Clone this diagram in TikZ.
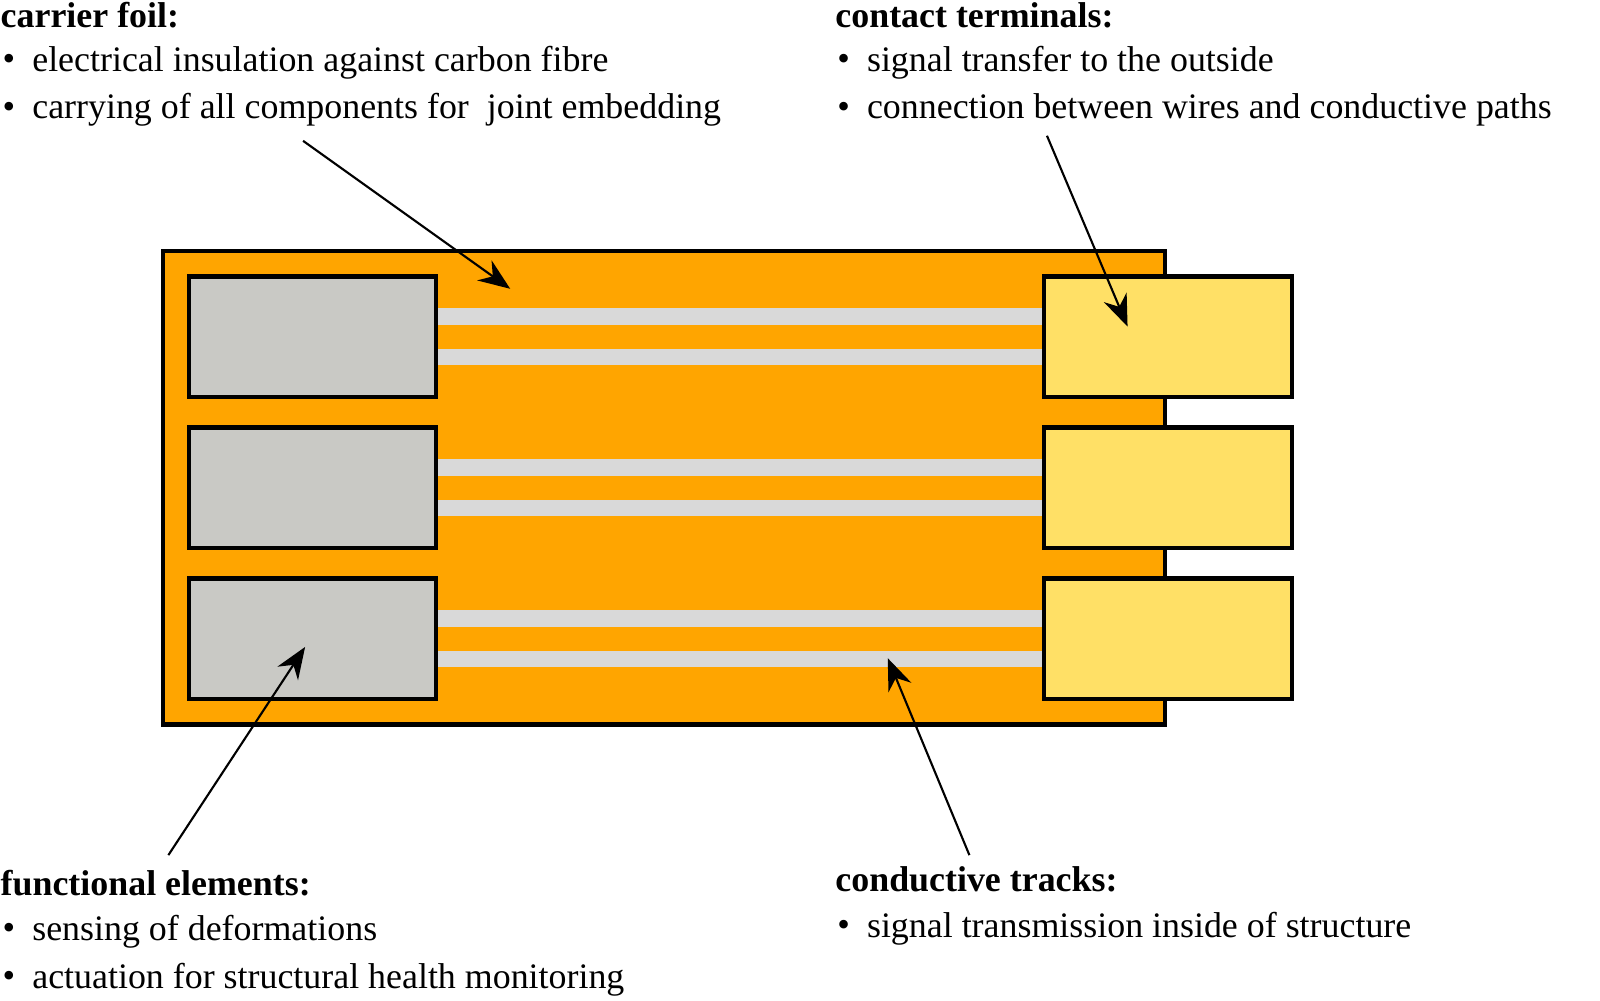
\documentclass[tikz,border=0pt]{standalone}
\usepackage{fontspec}
\setmainfont{Liberation Serif}
\usetikzlibrary{arrows.meta}
\definecolor{foil}{HTML}{FFA500}
\definecolor{elem}{HTML}{C9C9C5}
\definecolor{term}{HTML}{FFE066}
\definecolor{track}{HTML}{D9D9D9}
\begin{document}
\begin{tikzpicture}[x=0.0102cm,y=-0.0102cm,
  box/.style={draw=black,line width=1.2pt},
  tr/.style={fill=track,draw=none},
  txt/.style={anchor=west,inner sep=0pt,font=\fontsize{10.2}{12}\selectfont},
  ttl/.style={txt,font=\fontsize{10.2}{12}\selectfont\bfseries},
  arr/.style={-{Stealth[length=9pt,width=7pt]},line width=0.6pt}]
\useasboundingbox (0,0) rectangle (1568,980);
\filldraw[box,fill=foil] (160,246) rectangle (1142,710);
\foreach \y in {0,148,296}{
  \fill[tr] (427,302+\y) rectangle (1023,318+\y);
  \fill[tr] (427,342+\y) rectangle (1023,358+\y);
  \filldraw[box,fill=elem] (185,271+\y) rectangle (427,389+\y);
  \filldraw[box,fill=term] (1023,271+\y) rectangle (1266,389+\y);
}
% texts
\node[ttl] (t1) at (0,15) {carrier foil:};
\node[txt] (b1a) at (2,61) {•}; \node[txt] (l1a) at (31,61) {electrical insulation against carbon fibre};
\node[txt] (b1b) at (2,108) {•}; \node[txt] (l1b) at (31,108) {carrying of all components for\ \ joint embedding};
\node[ttl] (t2) at (818,15) {contact terminals:};
\node[txt] (b2a) at (820,61) {•}; \node[txt] (l2a) at (849,61) {signal transfer to the outside};
\node[txt] (b2b) at (820,108) {•}; \node[txt] (l2b) at (849,108) {connection between wires and conductive paths};
\node[ttl] (t3) at (0,865) {functional elements:};
\node[txt] (b3a) at (2,913) {•}; \node[txt] (l3a) at (31,913) {sensing of deformations};
\node[txt] (b3b) at (2,960) {•}; \node[txt] (l3b) at (31,960) {actuation for structural health monitoring};
\node[ttl] (t4) at (818,862) {conductive tracks:};
\node[txt] (b4a) at (820,910) {•}; \node[txt] (l4a) at (849,910) {signal transmission inside of structure};
% arrows
\coordinate (a1s) at (297,138); \coordinate (a1e) at (500,283);
\coordinate (a2s) at (1026,133); \coordinate (a2e) at (1105,320);
\coordinate (a3s) at (165,838); \coordinate (a3e) at (299,634);
\coordinate (a4s) at (950,838); \coordinate (a4e) at (870,645);
\draw[arr] (a1s) -- (a1e);
\draw[arr] (a2s) -- (a2e);
\draw[arr] (a3s) -- (a3e);
\draw[arr] (a4s) -- (a4e);
\end{tikzpicture}
\end{document}
